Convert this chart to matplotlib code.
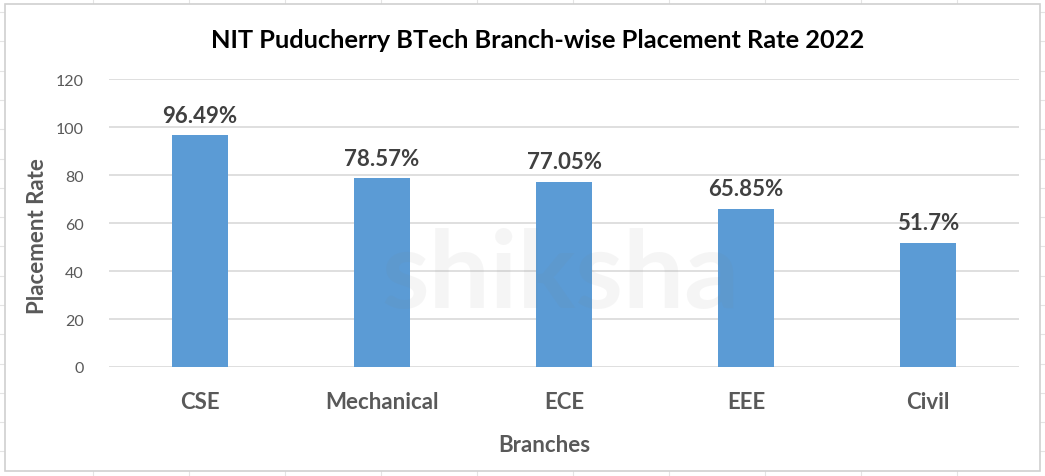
import numpy as np
import matplotlib
import matplotlib.pyplot as plt
from matplotlib.patches import Rectangle
from matplotlib.lines import Line2D

matplotlib.use('Agg')

# Data
branches = ['CSE', 'Mechanical', 'ECE', 'EEE', 'Civil']
rates = [96.49, 78.57, 77.05, 65.85, 51.7]
rate_labels = ['96.49%', '78.57%', '77.05%', '65.85%', '51.7%']
y_ticks = [0, 20, 40, 60, 80, 100, 120]

plt.rcParams['font.family'] = ['Lato', 'DejaVu Sans']

fig = plt.figure(figsize=(10.45, 4.77), dpi=100)
W, H = 1045, 477

# faint spreadsheet cell lines behind the chart
for x in range(93, W, 96):
    fig.add_artist(Line2D([x / W, x / W], [0, 1], color='#e4e4e4', lw=0.8, zorder=0))
for y in np.arange(13, H, 29.3):
    fig.add_artist(Line2D([0, 1], [1 - y / H, 1 - y / H], color='#e4e4e4', lw=0.8, zorder=0))

# chart area with border
fig.add_artist(Rectangle((5 / W, 5 / H), 1035 / W, 467 / H, facecolor='white',
                         edgecolor='#d0d0d0', lw=1.2, zorder=1))

ax = fig.add_axes([109 / W, 1 - 368 / H, 910 / W, 288 / H])
ax.set_zorder(2)
ax.patch.set_alpha(0)

x = np.arange(len(branches))
ax.bar(x, rates, width=0.31, color='#5b9bd5', zorder=3)
for xi, v, lab in zip(x, rates, rate_labels):
    ax.text(xi, v + 4, lab, ha='center', va='bottom', fontsize=16, fontweight='bold',
            color='#404040', zorder=5)

ax.set_xlim(-0.5, len(branches) - 0.5)
ax.set_ylim(0, 120)
ax.set_yticks(y_ticks)
ax.set_yticklabels([str(t) for t in y_ticks], fontsize=11.5, color='#595959')
ax.set_xticks(x)
ax.set_xticklabels(branches, fontsize=16, fontweight='bold', color='#595959')
ax.tick_params(axis='both', length=0)
ax.tick_params(axis='x', pad=17)
ax.tick_params(axis='y', pad=18)
ax.grid(axis='y', color='#d9d9d9', lw=1.2, zorder=0)
for s in ax.spines.values():
    s.set_visible(False)

# watermark
ax.text(1.98, 38, 'shiksha', ha='center', va='center', fontsize=78, fontweight='bold',
        color='#7f7f7f', alpha=0.07, zorder=4)

fig.text(538 / W, 1 - 40 / H, 'NIT Puducherry BTech Branch-wise Placement Rate 2022',
         ha='center', va='center', fontsize=18.3, fontweight='bold', color='black')
fig.text(544 / W, 1 - 446 / H, 'Branches', ha='center', va='center', fontsize=16,
         fontweight='bold', color='#595959')
fig.text(38 / W, 1 - 236 / H, 'Placement Rate', ha='center', va='center', rotation=90,
         fontsize=16, fontweight='bold', color='#595959')

fig.savefig('out.png', dpi=100)
